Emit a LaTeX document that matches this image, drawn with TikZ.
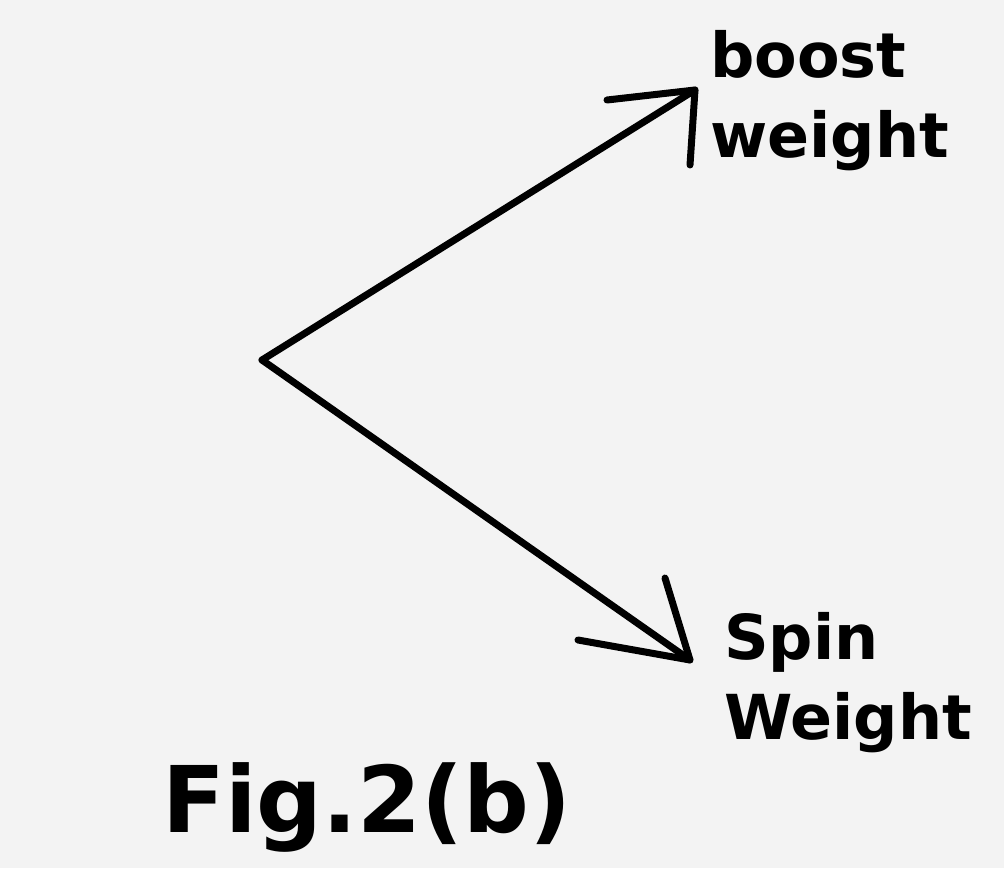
\documentclass[tikz,border=0pt]{standalone}
\usepackage{fontspec}
\setmainfont{DejaVu Sans}
\definecolor{bg}{HTML}{F3F3F3}
\begin{document}
\begin{tikzpicture}[x=1pt,y=-1pt,
  vec/.style={line width=7pt,line cap=round,line join=round},
  lbl/.style={anchor=north west,inner sep=0pt,align=left,font=\fontsize{62}{80}\selectfont\bfseries}]
\fill[bg] (0,0) rectangle (1004,868);
\useasboundingbox (0,0) rectangle (1004,868);
\coordinate (o) at (262,360);
\coordinate (a) at (695,90);
\coordinate (b) at (690,660);
\coordinate (a1) at (607,100);
\coordinate (a2) at (690,165);
\coordinate (b1) at (578,640);
\coordinate (b2) at (665,578);
\draw[vec] (o) -- (a);
\draw[vec] (a1) -- (a) -- (a2);
\draw[vec] (o) -- (b);
\draw[vec] (b1) -- (b) -- (b2);
\node[lbl] (t1) at (710,30) {boost\\weight};
\node[lbl] (t2) at (724,612) {Spin\\Weight};
\node[anchor=north west,inner sep=0pt,font=\fontsize{92}{100}\selectfont\bfseries] (fig) at (162,762) {Fig.2(b)};
\end{tikzpicture}
\end{document}
